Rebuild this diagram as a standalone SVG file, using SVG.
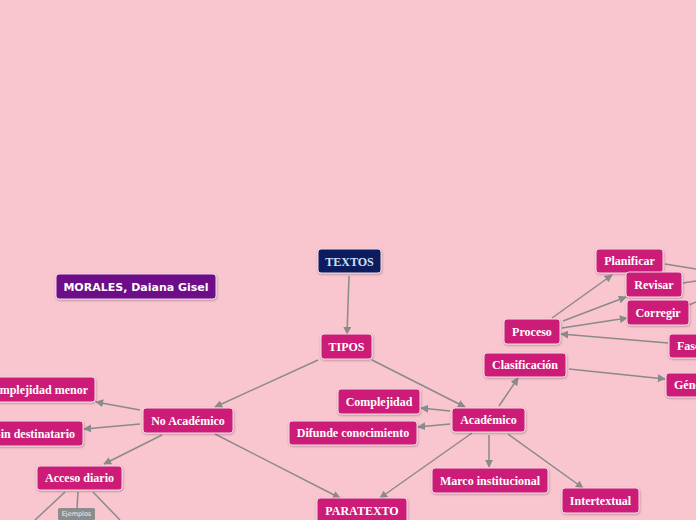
<svg xmlns="http://www.w3.org/2000/svg" width="696" height="520" viewBox="0 0 696 520">
<defs>
<marker id="ah" viewBox="0 0 10 10" refX="9" refY="5" markerWidth="8" markerHeight="8" markerUnits="userSpaceOnUse" orient="auto"><path d="M0,0 L10,5 L0,10 z" fill="#8a8a8a"/></marker>
<filter id="sh" x="-10%" y="-20%" width="120%" height="150%"><feDropShadow dx="0.5" dy="1" stdDeviation="0.8" flood-color="#000" flood-opacity="0.3"/></filter>
<style>
.n rect{fill:#cc1a78;stroke:#f5dbe5;stroke-width:1;filter:url(#sh)}
.n text{fill:#fff;font-family:"Liberation Serif",serif;font-weight:bold;font-size:12px;text-anchor:middle;dominant-baseline:central}
.c line{stroke:#8a8a8a;stroke-width:1.5}
.c .a{marker-end:url(#ah)}
</style>
</defs>
<rect width="696" height="520" fill="#f9c5cf"/>
<g class="c">
<line class="a" x1="349" y1="276" x2="347" y2="334"/>
<line class="a" x1="318" y1="360" x2="215" y2="407"/>
<line class="a" x1="372" y1="360" x2="465" y2="407"/>
<line class="a" x1="140" y1="410" x2="96" y2="402"/>
<line class="a" x1="140" y1="424" x2="84" y2="429"/>
<line class="a" x1="162" y1="435" x2="104" y2="464"/>
<line class="a" x1="215" y1="434" x2="340" y2="498"/>
<line x1="65" y1="492" x2="35" y2="520"/>
<line x1="78" y1="492" x2="77" y2="508"/>
<line x1="93" y1="492" x2="120" y2="520"/>
<line class="a" x1="450" y1="411" x2="421" y2="408"/>
<line class="a" x1="450" y1="424" x2="418" y2="427"/>
<line class="a" x1="489" y1="435" x2="489" y2="467"/>
<line class="a" x1="472" y1="433" x2="380" y2="498"/>
<line class="a" x1="508" y1="434" x2="583" y2="488"/>
<line class="a" x1="499" y1="406" x2="518" y2="378"/>
<line class="a" x1="552" y1="318" x2="612" y2="275"/>
<line class="a" x1="563" y1="321" x2="626" y2="297"/>
<line class="a" x1="562" y1="328" x2="627" y2="318"/>
<line class="a" x1="668" y1="343" x2="561" y2="334"/>
<line class="a" x1="569" y1="369" x2="665" y2="379"/>
<line x1="665" y1="264" x2="696" y2="269"/>
<line x1="683" y1="283" x2="696" y2="281"/>
<line x1="689" y1="305" x2="696" y2="302"/>
</g>
<g id="textos" class="n"><rect x="318" y="249" width="63" height="24" rx="3" style="fill:#0b1f5e"/><text x="349.5" y="261.5" style="fill:#cfe0f5">TEXTOS</text></g>
<g id="morales"><rect x="56" y="274" width="160" height="25" rx="3" fill="#6e0a88" stroke="#f0d8ef" stroke-width="1" filter="url(#sh)"/><text x="136" y="287" fill="#fff" font-family="DejaVu Sans,sans-serif" font-weight="bold" font-size="11" text-anchor="middle" dominant-baseline="central">MORALES, Daiana Gisel</text></g>
<g id="tipos" class="n"><rect x="321" y="334" width="51" height="25" rx="3"/><text x="346.5" y="346.5">TIPOS</text></g>
<g id="noacad" class="n"><rect x="143" y="408" width="90" height="25" rx="3"/><text x="188" y="420.5">No Académico</text></g>
<g id="compmenor" class="n"><rect x="-30" y="377" width="125" height="25" rx="3"/><text x="88" y="389.5" style="text-anchor:end">Complejidad menor</text></g>
<g id="sindest" class="n"><rect x="-20" y="421" width="103" height="25" rx="3"/><text x="75" y="433.5" style="text-anchor:end">Sin destinatario</text></g>
<g id="acceso" class="n"><rect x="37" y="466" width="85" height="24" rx="3"/><text x="79.5" y="478">Acceso diario</text></g>
<g id="ejemplos"><rect x="58" y="508" width="37" height="12" rx="1.5" fill="#8c8c8c"/><text x="76.5" y="514" fill="#f0f0f0" font-family="DejaVu Sans,sans-serif" font-size="6.5" text-anchor="middle" dominant-baseline="central">Ejemplos</text></g>
<g id="complejidad" class="n"><rect x="338" y="389" width="82" height="25" rx="3"/><text x="379" y="401.5">Complejidad</text></g>
<g id="difunde" class="n"><rect x="289" y="421" width="128" height="24" rx="3"/><text x="353" y="433">Difunde conocimiento</text></g>
<g id="acad" class="n"><rect x="452" y="408" width="73" height="24" rx="3"/><text x="488.5" y="420">Académico</text></g>
<g id="marco" class="n"><rect x="432" y="468" width="116" height="25" rx="3"/><text x="490" y="480.5">Marco institucional</text></g>
<g id="inter" class="n"><rect x="562" y="488" width="77" height="25" rx="3"/><text x="600.5" y="500.5">Intertextual</text></g>
<g id="paratexto" class="n"><rect x="317" y="498" width="90" height="30" rx="3"/><text x="362" y="511">PARATEXTO</text></g>
<g id="clasif" class="n"><rect x="484" y="353" width="82" height="24" rx="3"/><text x="525" y="365">Clasificación</text></g>
<g id="proceso" class="n"><rect x="504" y="319" width="56" height="25" rx="3"/><text x="532" y="331.5">Proceso</text></g>
<g id="planificar" class="n"><rect x="596" y="249" width="67" height="24" rx="3"/><text x="629.5" y="261">Planificar</text></g>
<g id="revisar" class="n"><rect x="626" y="272" width="56" height="25" rx="3"/><text x="654" y="284.5">Revisar</text></g>
<g id="corregir" class="n"><rect x="627" y="300" width="62" height="25" rx="3"/><text x="658" y="312.5">Corregir</text></g>
<g id="fases" class="n"><rect x="669" y="334" width="60" height="24" rx="3"/><text x="677" y="346" style="text-anchor:start">Fases</text></g>
<g id="generos" class="n"><rect x="666" y="373" width="70" height="24" rx="3"/><text x="674" y="385" style="text-anchor:start">Géneros</text></g>
</svg>
